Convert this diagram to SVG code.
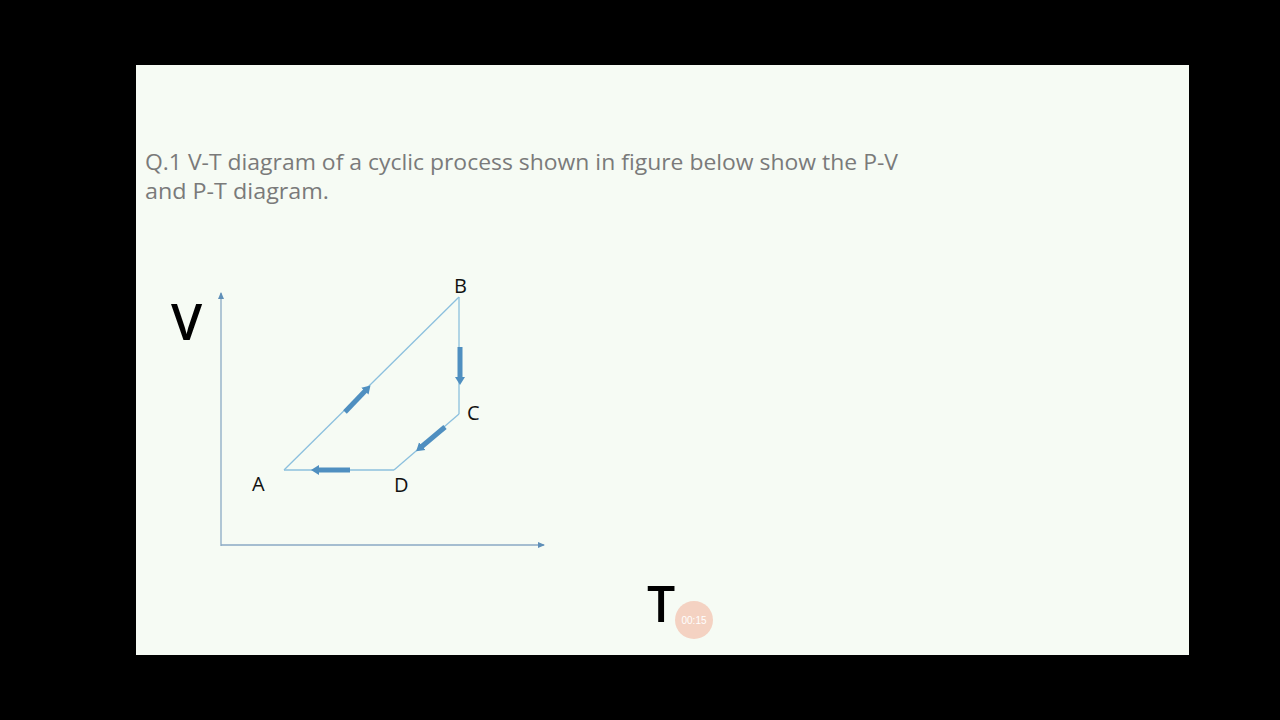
<svg xmlns="http://www.w3.org/2000/svg" width="1280" height="720" viewBox="0 0 1280 720">
<defs>
<style>
.q{font-family:"Open Sans","Liberation Sans",sans-serif;font-size:22px;fill:#7a7a7a}
.lbl{font-family:"Open Sans","Liberation Sans",sans-serif;font-size:20px;fill:#111}
.big{font-family:"Open Sans","Liberation Sans",sans-serif;font-size:50px;font-weight:600;fill:#000}
.edge{stroke:#8cc0de;stroke-width:1.3;fill:none}
.axis{stroke:#8aa9c4;stroke-width:1.3;fill:none}
.flow{stroke:#4f8fc0;stroke-width:5;fill:none}
</style>
<marker id="ax" markerWidth="8" markerHeight="8" refX="6" refY="4" orient="auto" markerUnits="userSpaceOnUse">
<path d="M0,1 L7,4 L0,7 z" fill="#5f8fb8"/>
</marker>
<marker id="fh" markerWidth="12" markerHeight="12" refX="3" refY="6" orient="auto" markerUnits="userSpaceOnUse">
<path d="M0,1 L8,6 L0,11 z" fill="#4f8fc0"/>
</marker>
</defs>
<rect x="0" y="0" width="1280" height="720" fill="#000"/>
<rect x="136" y="65" width="1053" height="590" fill="#f6fbf4"/>
<g id="question">
<text class="q" x="145" y="170" textLength="753" lengthAdjust="spacingAndGlyphs">Q.1 V-T diagram of a cyclic process shown in figure below show the P-V</text>
<text class="q" x="145" y="199" textLength="184" lengthAdjust="spacingAndGlyphs">and P-T  diagram.</text>
</g>
<g id="axes">
<line class="axis" x1="221" y1="546" x2="221" y2="293" marker-end="url(#ax)"/>
<line class="axis" x1="221" y1="545" x2="544" y2="545" marker-end="url(#ax)"/>
<text class="big" x="171" y="340">V</text>
<text class="big" x="647" y="622">T</text>
</g>
<g id="connectors">
<line class="edge" x1="284" y1="470" x2="459" y2="297"/>
<line class="edge" x1="459" y1="297" x2="459" y2="414"/>
<line class="edge" x1="459" y1="414" x2="394" y2="470"/>
<line class="edge" x1="394" y1="470" x2="284" y2="470"/>
<line class="flow" x1="345" y1="412" x2="367" y2="389" marker-end="url(#fh)"/>
<line class="flow" x1="460" y1="347" x2="460" y2="380" marker-end="url(#fh)"/>
<line class="flow" x1="445" y1="427" x2="420" y2="448" marker-end="url(#fh)"/>
<line class="flow" x1="350" y1="470" x2="316" y2="470" marker-end="url(#fh)"/>
</g>
<g id="node-A"><text class="lbl" x="252" y="491">A</text></g>
<g id="node-B"><text class="lbl" x="454" y="293">B</text></g>
<g id="node-C"><text class="lbl" x="467" y="420">C</text></g>
<g id="node-D"><text class="lbl" x="394" y="492">D</text></g>
<g id="timestamp">
<circle cx="694" cy="620" r="19" fill="#f4d2c2"/>
<text x="694" y="624" text-anchor="middle" font-family="Liberation Sans, sans-serif" font-size="10" fill="#fff">00:15</text>
</g>
</svg>
